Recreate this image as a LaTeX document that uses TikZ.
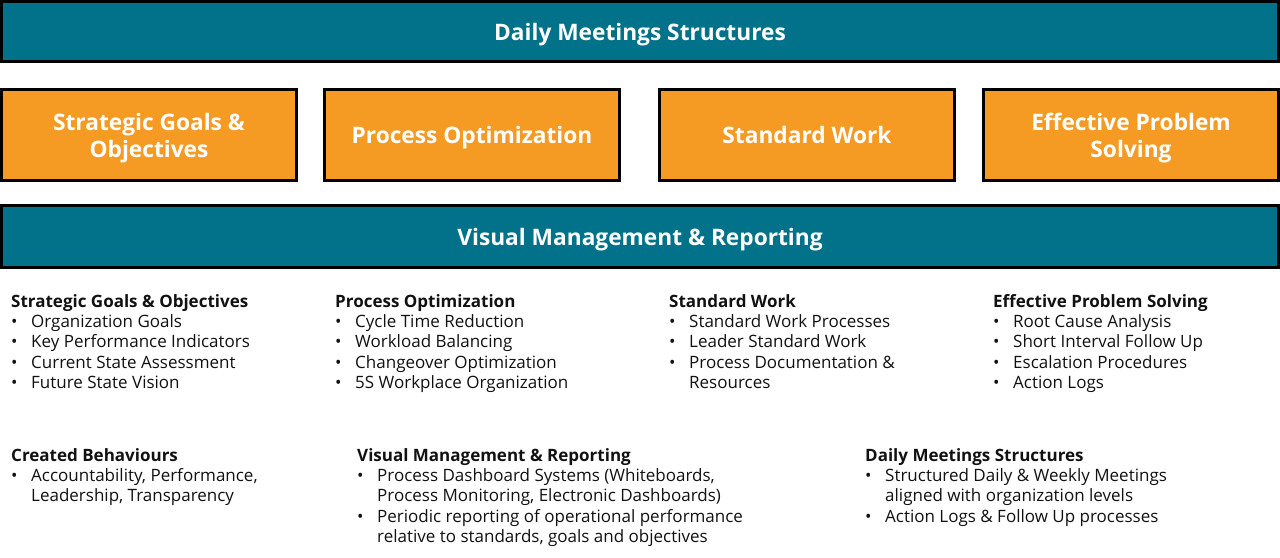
\documentclass[tikz,border=0pt]{standalone}
\usepackage{fontspec}
\setmainfont{Open Sans}
\definecolor{tealbar}{HTML}{02718A}
\definecolor{orangebox}{HTML}{F59A23}
\definecolor{bodytext}{HTML}{111111}
\newcommand{\bul}{\makebox[20pt][l]{•}}
\newcommand{\cont}{\hspace*{20pt}}
\begin{document}
\begin{tikzpicture}[x=1pt,y=-1pt,
  bar/.style={draw=black, line width=3pt, fill=tealbar, minimum width=1277pt, minimum height=60pt, inner sep=0pt},
  obox/.style={draw=black, line width=3pt, fill=orangebox, minimum width=295pt, minimum height=91pt, inner sep=0pt},
  ttl/.style={anchor=base, text=white, inner sep=0pt, font=\fontsize{22.7}{27}\selectfont\bfseries},
  blk/.style={anchor=base west, inner sep=0pt, text=bodytext, font=\fontsize{17}{20.4}\selectfont}
]
\useasboundingbox (0,0) rectangle (1280,557);
\node[bar] (top) at (640,31.5) {};
\node[bar, minimum height=62pt] (vis) at (640,236.5) {};
\node[obox] (sg) at (149,135.3) {};
\node[obox] (po) at (472,135.3) {};
\node[obox] (sw) at (807,135.3) {};
\node[obox] (ep) at (1130.5,135.3) {};
% titles
\node[ttl] (tTop) at (640,40.8) {Daily Meetings Structures};
\node[ttl] (tVis) at (640,245.8) {Visual Management \& Reporting};
\node[ttl] (tSg1) at (149,130.3) {Strategic Goals \&};
\node[ttl] (tSg2) at (149,157.3) {Objectives};
\node[ttl] (tPo) at (472,143.3) {Process Optimization};
\node[ttl] (tSw) at (807,143.3) {Standard Work};
\node[ttl] (tEp1) at (1131,130.3) {Effective Problem};
\node[ttl] (tEp2) at (1131,157.3) {Solving};
% lists
\node[blk] (l1) at (11,307) {\begin{tabular}[t]{@{}l@{}}\textbf{Strategic Goals \& Objectives}\\
\bul Organization Goals\\ \bul Key Performance Indicators\\ \bul Current State Assessment\\ \bul Future State Vision\end{tabular}};
\node[blk] (l2) at (335,307) {\begin{tabular}[t]{@{}l@{}}\textbf{Process Optimization}\\
\bul Cycle Time Reduction\\ \bul Workload Balancing\\ \bul Changeover Optimization\\ \bul 5S Workplace Organization\end{tabular}};
\node[blk] (l3) at (669,307) {\begin{tabular}[t]{@{}l@{}}\textbf{Standard Work}\\
\bul Standard Work Processes\\ \bul Leader Standard Work\\ \bul Process Documentation \&\\ \cont Resources\end{tabular}};
\node[blk] (l4) at (993,307) {\begin{tabular}[t]{@{}l@{}}\textbf{Effective Problem Solving}\\
\bul Root Cause Analysis\\ \bul Short Interval Follow Up\\ \bul Escalation Procedures\\ \bul Action Logs\end{tabular}};
\node[blk] (l5) at (11,461) {\begin{tabular}[t]{@{}l@{}}\textbf{Created Behaviours}\\
\bul Accountability, Performance,\\ \cont Leadership, Transparency\end{tabular}};
\node[blk] (l6) at (357,461) {\begin{tabular}[t]{@{}l@{}}\textbf{Visual Management \& Reporting}\\
\bul Process Dashboard Systems (Whiteboards,\\ \cont Process Monitoring, Electronic Dashboards)\\ \bul Periodic reporting of operational performance\\ \cont relative to standards, goals and objectives\end{tabular}};
\node[blk] (l7) at (865,461) {\begin{tabular}[t]{@{}l@{}}\textbf{Daily Meetings Structures}\\
\bul Structured Daily \& Weekly Meetings\\ \cont aligned with organization levels\\ \bul Action Logs \& Follow Up processes\end{tabular}};
\end{tikzpicture}
\end{document}
